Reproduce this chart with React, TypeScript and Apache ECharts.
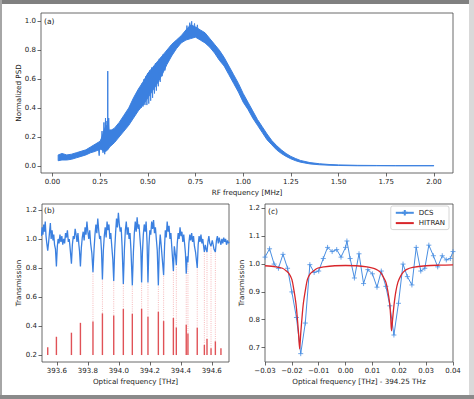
import React, { useEffect, useRef } from "react";
import * as echarts from "echarts";

// ---------- Panel (a): RF spectrum (band envelope) ----------
const freqA = [0.03, 0.05, 0.075, 0.1, 0.125, 0.15, 0.175, 0.2, 0.225, 0.25, 0.26, 0.27, 0.28, 0.29, 0.3, 0.325, 0.35, 0.375, 0.4, 0.425, 0.45, 0.475, 0.5, 0.525, 0.55, 0.575, 0.6, 0.625, 0.65, 0.675, 0.7, 0.725, 0.75, 0.775, 0.8, 0.825, 0.85, 0.875, 0.9, 0.925, 0.95, 0.975, 1.0, 1.025, 1.05, 1.075, 1.1, 1.125, 1.15, 1.175, 1.2, 1.225, 1.25, 1.275, 1.3, 1.35, 1.4, 1.45, 1.5, 1.6, 1.7, 1.8, 2.0];
const lowerA = [0.035, 0.04, 0.04, 0.045, 0.055, 0.065, 0.075, 0.09, 0.1, 0.115, 0.11, 0.1, 0.1, 0.11, 0.13, 0.16, 0.2, 0.24, 0.28, 0.33, 0.38, 0.42, 0.47, 0.52, 0.57, 0.63, 0.7, 0.76, 0.81, 0.85, 0.87, 0.88, 0.89, 0.87, 0.85, 0.82, 0.78, 0.73, 0.69, 0.63, 0.57, 0.51, 0.44, 0.39, 0.33, 0.28, 0.23, 0.18, 0.145, 0.11, 0.085, 0.065, 0.048, 0.035, 0.025, 0.013, 0.007, 0.004, 0.002, 0.0, 0.0, 0.0, 0.0];
const upperA = [0.075, 0.085, 0.075, 0.08, 0.09, 0.1, 0.11, 0.13, 0.15, 0.17, 0.2, 0.24, 0.28, 0.27, 0.24, 0.26, 0.3, 0.35, 0.4, 0.47, 0.53, 0.58, 0.64, 0.68, 0.72, 0.76, 0.8, 0.84, 0.87, 0.9, 0.94, 0.975, 0.96, 0.94, 0.92, 0.88, 0.84, 0.8, 0.75, 0.69, 0.63, 0.57, 0.5, 0.44, 0.38, 0.32, 0.27, 0.22, 0.175, 0.14, 0.11, 0.085, 0.065, 0.05, 0.037, 0.022, 0.014, 0.009, 0.006, 0.003, 0.002, 0.001, 0.001];
// noisy spikes around 0.24-0.31 MHz (incl. the narrow line at 0.29)
const spikeA: [number, number][] = [[0.24, 0.13], [0.245, 0.07], [0.25, 0.16], [0.255, 0.12], [0.26, 0.24], [0.265, 0.09], [0.27, 0.3], [0.274, 0.08], [0.278, 0.33], [0.282, 0.11], [0.286, 0.31], [0.289, 0.12], [0.29, 0.655], [0.291, 0.13], [0.295, 0.33], [0.3, 0.15], [0.305, 0.25], [0.31, 0.17]];
// comb-like dips between 0.43 and 0.6 MHz
const combA: [number, number][] = [[0.43, 0.45], [0.435, 0.36], [0.44, 0.48], [0.445, 0.38], [0.45, 0.52], [0.455, 0.4], [0.46, 0.54], [0.465, 0.4], [0.47, 0.57], [0.475, 0.41], [0.48, 0.6], [0.485, 0.42], [0.49, 0.62], [0.495, 0.42], [0.5, 0.64], [0.505, 0.43], [0.51, 0.66], [0.515, 0.45], [0.52, 0.68], [0.525, 0.47], [0.53, 0.69], [0.535, 0.5], [0.54, 0.71], [0.545, 0.52], [0.55, 0.72], [0.555, 0.55], [0.56, 0.74], [0.565, 0.58], [0.57, 0.75], [0.575, 0.62], [0.58, 0.77], [0.59, 0.66], [0.6, 0.8]];
const peakA: [number, number][] = [[0.7, 0.9], [0.705, 0.97], [0.71, 0.9], [0.72, 0.99], [0.725, 0.91], [0.73, 1.0], [0.735, 0.9], [0.745, 0.985], [0.75, 0.91], [0.76, 0.975], [0.765, 0.9]];
const xTicksA = [0, 0.25, 0.5, 0.75, 1.0, 1.25, 1.5, 1.75, 2.0];
const yTicksA = [0, 0.2, 0.4, 0.6, 0.8, 1.0];

// ---------- Panel (b): broadband transmission + HITRAN sticks ----------
const transB: [number, number][] = [
  [393.5, 1.02], [393.505, 1.08], [393.51, 1.03], [393.515, 1.1], [393.52, 1.05], [393.525, 1.12], [393.53, 1.02], [393.535, 0.97], [393.541, 0.92], [393.547, 0.98],
  [393.552, 1.04], [393.558, 1.11], [393.563, 1.0], [393.569, 1.06], [393.575, 0.99], [393.58, 1.03], [393.585, 0.96], [393.591, 0.93], [393.597, 0.81], [393.603, 0.95],
  [393.608, 1.0], [393.614, 0.97], [393.62, 1.03], [393.626, 0.98], [393.632, 1.02], [393.638, 0.96], [393.644, 1.0], [393.65, 0.97], [393.656, 1.04], [393.662, 1.01],
  [393.668, 1.06], [393.674, 0.98], [393.68, 1.0], [393.686, 0.93], [393.694, 0.83], [393.7, 0.96], [393.706, 1.02], [393.712, 1.0], [393.718, 1.07], [393.724, 1.03],
  [393.73, 0.98], [393.736, 1.04], [393.742, 0.96], [393.746, 0.92], [393.752, 0.81], [393.758, 0.94], [393.764, 1.01], [393.77, 1.05], [393.776, 0.99], [393.782, 1.08],
  [393.788, 1.03], [393.794, 1.12], [393.8, 1.05], [393.806, 1.0], [393.812, 1.06], [393.818, 0.97], [393.826, 0.9], [393.833, 0.77], [393.84, 0.93], [393.846, 1.03],
  [393.852, 1.1], [393.858, 1.04], [393.864, 1.14], [393.87, 1.06], [393.876, 1.0], [393.882, 1.02], [393.888, 0.92], [393.894, 0.72], [393.9, 0.92], [393.906, 1.02],
  [393.912, 1.08], [393.918, 1.01], [393.924, 1.12], [393.93, 1.06], [393.936, 1.1], [393.942, 1.0], [393.948, 1.04], [393.955, 0.94], [393.961, 0.86], [393.967, 0.71],
  [393.973, 0.92], [393.979, 1.04], [393.985, 1.14], [393.991, 1.08], [393.997, 1.18], [394.003, 1.1], [394.009, 1.05], [394.015, 1.08], [394.021, 0.95], [394.029, 0.69],
  [394.036, 0.93], [394.042, 1.06], [394.048, 1.12], [394.054, 1.03], [394.06, 1.08], [394.066, 1.0], [394.072, 1.04], [394.078, 0.93], [394.087, 0.68], [394.094, 0.91],
  [394.1, 1.04], [394.106, 1.12], [394.112, 1.05], [394.118, 1.15], [394.124, 1.07], [394.13, 1.1], [394.136, 1.01], [394.142, 0.92], [394.147, 0.7], [394.152, 0.9],
  [394.158, 1.03], [394.164, 1.1], [394.17, 1.05], [394.176, 1.12], [394.182, 0.98], [394.188, 0.7], [394.194, 0.95], [394.2, 1.06], [394.206, 1.03], [394.212, 1.12],
  [394.218, 1.07], [394.224, 1.13], [394.23, 1.04], [394.236, 1.08], [394.242, 1.0], [394.248, 0.92], [394.255, 0.68], [394.261, 0.93], [394.267, 1.03], [394.273, 0.96],
  [394.279, 0.88], [394.289, 0.75], [394.295, 0.95], [394.3, 1.06], [394.306, 1.01], [394.312, 1.12], [394.318, 1.05], [394.324, 1.09], [394.33, 1.0], [394.336, 1.04],
  [394.342, 0.94], [394.352, 0.78], [394.358, 0.95], [394.364, 0.9], [394.371, 0.82], [394.377, 0.97], [394.383, 1.04], [394.389, 1.0], [394.395, 1.08], [394.401, 1.02],
  [394.407, 1.05], [394.413, 0.98], [394.419, 1.03], [394.425, 0.96], [394.43, 0.9], [394.435, 0.76], [394.441, 0.88], [394.446, 0.84], [394.452, 0.97], [394.458, 1.03],
  [394.464, 0.99], [394.47, 1.04], [394.476, 0.98], [394.482, 1.02], [394.488, 0.95], [394.495, 0.91], [394.506, 0.8], [394.512, 0.96], [394.518, 1.02], [394.524, 0.98],
  [394.53, 1.03], [394.536, 0.97], [394.542, 1.0], [394.547, 0.95], [394.552, 0.91], [394.558, 0.96], [394.563, 0.93], [394.569, 0.91], [394.575, 0.98], [394.581, 1.02],
  [394.587, 0.97], [394.595, 0.95], [394.603, 0.99], [394.609, 0.96], [394.614, 0.93], [394.623, 0.91], [394.63, 0.99], [394.636, 1.02], [394.642, 0.97], [394.648, 1.01],
  [394.654, 0.98], [394.659, 0.96], [394.665, 1.0], [394.671, 0.97], [394.677, 1.01], [394.683, 0.98], [394.689, 1.0], [394.695, 0.96], [394.701, 0.99], [394.707, 0.97], [394.711, 0.98]
];
const lineFreqB = [393.541, 393.597, 393.694, 393.752, 393.833, 393.894, 393.967, 394.029, 394.087, 394.147, 394.188, 394.255, 394.289, 394.352, 394.371, 394.435, 394.446, 394.506, 394.552, 394.569, 394.595, 394.623, 394.659];
const lineStrengthB = [0.253, 0.326, 0.354, 0.422, 0.432, 0.487, 0.473, 0.517, 0.484, 0.519, 0.464, 0.498, 0.434, 0.455, 0.39, 0.409, 0.349, 0.388, 0.269, 0.31, 0.246, 0.294, 0.246];
const lineDipB: (number | null)[] = [null, null, null, null, 0.77, 0.72, 0.71, 0.69, 0.68, 0.7, 0.7, 0.68, 0.75, 0.78, 0.82, 0.76, 0.84, 0.8, 0.91, 0.91, 0.95, 0.91, null];
const stickBase = 0.2;
const xTicksB = [393.6, 393.8, 394.0, 394.2, 394.4, 394.6];
const yTicksB = [0.2, 0.4, 0.6, 0.8, 1.0, 1.2];

// ---------- Panel (c): zoom around 394.25 THz ----------
const dcsC: [number, number][] = [
  [-0.03, 1.025], [-0.0283, 1.055], [-0.0266, 1.0], [-0.025, 0.985], [-0.0233, 1.035], [-0.0216, 0.985], [-0.02, 0.9], [-0.0183, 0.808], [-0.0167, 0.678], [-0.015, 0.788],
  [-0.0133, 0.998], [-0.0117, 0.97], [-0.01, 0.975], [-0.0083, 1.02], [-0.0067, 1.06], [-0.005, 1.045], [-0.0033, 1.052], [-0.0017, 1.025], [0.0, 1.06], [0.0005, 1.083],
  [0.0017, 1.02], [0.0033, 0.95], [0.005, 1.037], [0.0067, 0.93], [0.0083, 0.98], [0.01, 0.965], [0.0117, 0.917], [0.0133, 0.975], [0.015, 0.92], [0.0165, 0.85],
  [0.018, 0.745], [0.0197, 0.859], [0.0214, 1.0], [0.023, 0.955], [0.0247, 0.925], [0.0263, 1.06], [0.028, 0.975], [0.0295, 0.985], [0.031, 1.068], [0.0327, 1.03],
  [0.0343, 0.99], [0.036, 1.03], [0.0375, 1.015], [0.039, 1.02], [0.04, 1.045]
];
const hitranC: [number, number][] = [
  [-0.03, 0.994], [-0.026, 0.99], [-0.0235, 0.985], [-0.022, 0.975], [-0.021, 0.965], [-0.02, 0.945], [-0.0193, 0.91], [-0.0185, 0.86], [-0.018, 0.81], [-0.0175, 0.75],
  [-0.0171, 0.695], [-0.0167, 0.75], [-0.0162, 0.81], [-0.0157, 0.86], [-0.0149, 0.91], [-0.0142, 0.945], [-0.0132, 0.965], [-0.012, 0.975], [-0.0105, 0.985], [-0.008, 0.99],
  [-0.004, 0.994], [0.0, 0.995], [0.004, 0.994], [0.008, 0.99], [0.0105, 0.985], [0.012, 0.978], [0.013, 0.97], [0.014, 0.955], [0.015, 0.935], [0.0157, 0.905],
  [0.0164, 0.86], [0.0168, 0.81], [0.0171, 0.76], [0.0175, 0.8], [0.018, 0.85], [0.0187, 0.9], [0.0195, 0.935], [0.0204, 0.955], [0.0214, 0.97], [0.0226, 0.98],
  [0.025, 0.988], [0.03, 0.994], [0.035, 0.996], [0.04, 0.997]
];
const xTicksC = [-0.03, -0.02, -0.01, 0.0, 0.01, 0.02, 0.03, 0.04];
const yTicksC = [0.7, 0.8, 0.9, 1.0, 1.1, 1.2];

const BLUE = "#3b80e0";
const BLUE_C = "#4a8fe2";
const RED = "#d8262b";
const STICK = "#e05257";
const DOT = "#f4a6a8";
const SPINE = "#444";
const TXT = "#222";
const FONT = "DejaVu Sans";

function fmt(d: number) {
  return (v: number) => {
    const s = Number(v).toFixed(d);
    return s.startsWith("-") ? "\u2212" + s.slice(1) : s;
  };
}

function xAxis(gridIndex: number, min: number, max: number, ticks: number[], dec: number, name: string) {
  return {
    type: "value", gridIndex, min, max, position: "bottom",
    name, nameLocation: "middle", nameGap: 16, nameMoveOverlap: false,
    nameTextStyle: { fontFamily: FONT, fontSize: 7.2, color: TXT },
    axisLine: { show: false, onZero: false },
    axisTick: { show: true, inside: false, length: 3.5, customValues: ticks, lineStyle: { color: SPINE, width: 0.8 } },
    axisLabel: { customValues: ticks, formatter: fmt(dec), fontFamily: FONT, fontSize: 7, color: TXT, margin: 5 },
    splitLine: { show: false },
  };
}
function yAxis(gridIndex: number, min: number, max: number, ticks: number[], dec: number) {
  return {
    type: "value", gridIndex, min, max, position: "left",
    axisLine: { show: false, onZero: false },
    axisTick: { show: true, inside: false, length: 3.5, customValues: ticks, lineStyle: { color: SPINE, width: 0.8 } },
    axisLabel: { customValues: ticks, formatter: fmt(dec), fontFamily: FONT, fontSize: 7, color: TXT, margin: 5 },
    splitLine: { show: false },
  };
}
function yTitle(text: string, x: number, y: number) {
  return {
    type: "text", x, y, rotation: Math.PI / 2,
    style: { text, fontFamily: FONT, fontSize: 7.2, fill: TXT, align: "center", verticalAlign: "middle" },
  };
}

export default function App() {
  const ref = useRef<HTMLDivElement>(null);
  useEffect(() => {
    if (!ref.current) return;
    const chart = echarts.init(ref.current, undefined, { renderer: "svg" });
    const grid = (left: number, top: number, width: number, height: number) => ({
      left, top, width, height, show: true, borderColor: SPINE, borderWidth: 0.8, backgroundColor: "transparent",
    });
    const option: any = {
      animation: false,
      backgroundColor: "#fff",
      textStyle: { fontFamily: FONT },
      grid: [grid(41, 13, 412, 160), grid(42, 204, 187, 158), grid(265, 204, 188, 158)],
      xAxis: [
        xAxis(0, -0.06, 2.1, xTicksA, 2, "RF frequency [MHz]"),
        xAxis(1, 393.504, 394.711, xTicksB, 1, "Optical frequency [THz]"),
        xAxis(2, -0.03, 0.04, xTicksC, 2, "Optical frequency [THz] - 394.25 THz"),
      ],
      yAxis: [
        yAxis(0, -0.05, 1.057, yTicksA, 1),
        yAxis(1, 0.152, 1.241, yTicksB, 1),
        yAxis(2, 0.648, 1.216, yTicksC, 1),
      ],
      legend: {
        data: [{ name: "DCS" }, { name: "HITRAN", itemStyle: { opacity: 0 } }],
        orient: "vertical", right: 25, top: 206,
        itemWidth: 18, itemHeight: 7, itemGap: 3,
        padding: [3, 4, 3, 4],
        borderColor: "#ccc", borderWidth: 0.8, borderRadius: 2, backgroundColor: "#fff",
        textStyle: { fontFamily: FONT, fontSize: 7, color: TXT },
      },
      graphic: [
        { type: "rect", shape: { x: 0, y: 0, width: 474, height: 4 }, style: { fill: "#808080" }, silent: true },
        { type: "rect", shape: { x: 0, y: 0, width: 2, height: 399 }, style: { fill: "#a6a6a6" }, silent: true },
        { type: "rect", shape: { x: 469, y: 0, width: 5, height: 399 }, style: { fill: "#d9d9d9" }, silent: true },
        { type: "rect", shape: { x: 0, y: 395, width: 474, height: 4 }, style: { fill: "#8a8a8a" }, silent: true },
        { type: "text", x: 44, y: 21, style: { text: "(a)", fontFamily: FONT, fontSize: 7.5, fill: TXT, verticalAlign: "middle" } },
        { type: "text", x: 44, y: 210, style: { text: "(b)", fontFamily: FONT, fontSize: 7.5, fill: TXT, verticalAlign: "middle" } },
        { type: "text", x: 268, y: 211, style: { text: "(c)", fontFamily: FONT, fontSize: 7.5, fill: TXT, verticalAlign: "middle" } },
        yTitle("Normalized PSD", 18, 93),
        yTitle("Transmission", 18, 283),
        yTitle("Transmission", 241, 283),
      ],
      series: [
        {
          type: "custom", name: "PSD band", xAxisIndex: 0, yAxisIndex: 0, clip: true,
          data: freqA.map((f, i) => [f, lowerA[i], upperA[i]]),
          encode: { x: 0, y: [1, 2] },
          renderItem: (params: any, api: any) => {
            if (params.dataIndex !== 0) return { type: "group", children: [] };
            const pts: number[][] = [];
            for (let i = 0; i < freqA.length; i++) pts.push(api.coord([freqA[i], upperA[i]]));
            for (let i = freqA.length - 1; i >= 0; i--) pts.push(api.coord([freqA[i], lowerA[i]]));
            return { type: "polygon", shape: { points: pts }, style: { fill: BLUE, stroke: BLUE, lineWidth: 1 } };
          },
        },
        { type: "line", xAxisIndex: 0, yAxisIndex: 0, data: spikeA, showSymbol: false, symbol: "none", lineStyle: { color: BLUE, width: 1 } },
        { type: "line", xAxisIndex: 0, yAxisIndex: 0, data: combA, showSymbol: false, symbol: "none", lineStyle: { color: BLUE, width: 0.9 } },
        { type: "line", xAxisIndex: 0, yAxisIndex: 0, data: peakA, showSymbol: false, symbol: "none", lineStyle: { color: BLUE, width: 0.9 } },
        {
          type: "custom", name: "dotted", xAxisIndex: 1, yAxisIndex: 1, clip: true,
          data: lineFreqB.map((f, i) => [f, lineStrengthB[i], lineDipB[i] == null ? lineStrengthB[i] : lineDipB[i]]),
          renderItem: (params: any, api: any) => {
            const i = params.dataIndex;
            const dip = lineDipB[i];
            if (dip == null) return { type: "group", children: [] };
            const a = api.coord([lineFreqB[i], lineStrengthB[i]]);
            const b = api.coord([lineFreqB[i], dip]);
            return { type: "line", shape: { x1: a[0], y1: a[1], x2: b[0], y2: b[1] }, style: { stroke: DOT, lineWidth: 0.8, lineDash: [1, 1.2] } };
          },
        },
        {
          type: "custom", name: "sticks", xAxisIndex: 1, yAxisIndex: 1, clip: true,
          data: lineFreqB.map((f, i) => [f, lineStrengthB[i]]),
          renderItem: (params: any, api: any) => {
            const i = params.dataIndex;
            const a = api.coord([lineFreqB[i], stickBase]);
            const b = api.coord([lineFreqB[i], lineStrengthB[i]]);
            return { type: "line", shape: { x1: a[0], y1: a[1], x2: b[0], y2: b[1] }, style: { stroke: STICK, lineWidth: 1.4 } };
          },
        },
        { type: "line", xAxisIndex: 1, yAxisIndex: 1, data: transB, showSymbol: false, symbol: "none", lineStyle: { color: BLUE, width: 1.3 } },
        {
          type: "line", name: "HITRAN", xAxisIndex: 2, yAxisIndex: 2, data: hitranC, symbol: "none", smooth: 0.3,
          lineStyle: { color: RED, width: 1.3 }, itemStyle: { color: RED }, z: 3,
        },
        {
          type: "line", name: "DCS", xAxisIndex: 2, yAxisIndex: 2, data: dcsC,
          symbol: "path://M0,-5L0,5M-5,0L5,0", symbolSize: 5, showSymbol: true,
          lineStyle: { color: BLUE_C, width: 1 },
          itemStyle: { color: BLUE_C, borderColor: BLUE_C, borderWidth: 0.8 }, z: 2,
        },
      ],
    };
    chart.setOption(option);
    return () => chart.dispose();
  }, []);
  return <div ref={ref} style={{ position: "fixed", left: 0, top: 0, width: 474, height: 399, background: "#fff" }} />;
}
